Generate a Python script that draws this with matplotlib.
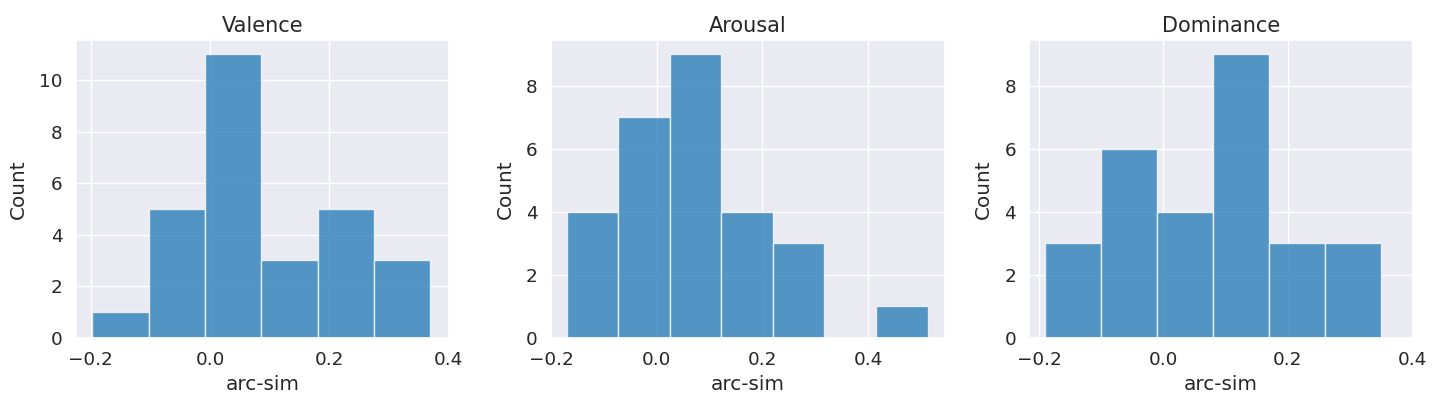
import matplotlib
matplotlib.use("Agg")
import matplotlib.pyplot as plt
from matplotlib.ticker import MultipleLocator
import numpy as np
import seaborn as sns

# bin edges and counts
valence_edges = [-0.197, -0.103, -0.008, 0.086, 0.181, 0.275, 0.369]
valence_counts = [1, 5, 11, 3, 5, 3]

arousal_edges = [-0.171, -0.073, 0.025, 0.122, 0.220, 0.317, 0.415, 0.513]
arousal_counts = [4, 7, 9, 4, 3, 0, 1]

dominance_edges = [-0.190, -0.100, -0.010, 0.080, 0.170, 0.260, 0.350]
dominance_counts = [3, 6, 4, 9, 3, 3]

titles = ["Valence", "Arousal", "Dominance"]
panels = [
    (valence_edges, valence_counts, (-0.2245, 0.4005)),
    (arousal_edges, arousal_counts, (-0.201, 0.546)),
    (dominance_edges, dominance_counts, (-0.2156, 0.401)),
]

# axes boxes in figure fractions (left, right), shared bottom/top
boxes = [(0.0527, 0.3114), (0.3820, 0.6553), (0.7138, 0.9799)]
bottom, top = 0.180, 0.903

sns.set_theme(style="darkgrid", font_scale=1.2)

fig = plt.figure(figsize=(14.42, 4.12), dpi=100)

for (l, r), title, (edges, counts, xlim) in zip(boxes, titles, panels):
    ax = fig.add_axes([l, bottom, r - l, top - bottom])
    edges = np.array(edges)
    ax.bar(edges[:-1], counts, width=np.diff(edges), align="edge",
           color="#1f77b4", alpha=0.75, edgecolor="white", linewidth=1)
    ax.set_xlim(*xlim)
    ax.xaxis.set_major_locator(MultipleLocator(0.2))
    ax.set_title(title, fontsize=15)
    ax.set_xlabel("arc-sim")
    ax.set_ylabel("Count", labelpad=8)

fig.savefig("out.png")
